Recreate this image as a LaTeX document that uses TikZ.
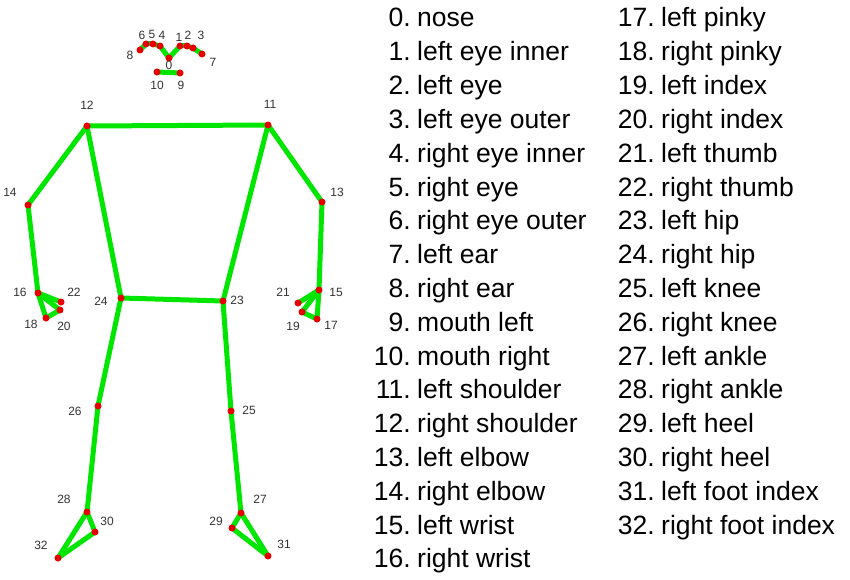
\documentclass[tikz,border=0pt]{standalone}
\usepackage{fontspec}
\setmainfont{Liberation Sans}
\definecolor{bone}{RGB}{0,230,0}
\definecolor{joint}{RGB}{230,0,0}
\begin{document}
\begin{tikzpicture}[x=1pt,y=-1pt,
  bonel/.style={draw=bone,line width=5pt,line cap=round},
  pt/.style={circle,fill=joint,inner sep=0pt,minimum size=7pt},
  lbl/.style={font=\fontsize{12}{13}\selectfont,text=black!80,inner sep=0pt},
  num/.style={anchor=base east,font=\fontsize{26.5}{28}\selectfont,inner sep=0pt},
  txt/.style={anchor=base west,font=\fontsize{26.5}{28}\selectfont,inner sep=0pt}]
\useasboundingbox (0,0) rectangle (850,580);
\fill[white] (0,0) rectangle (850,580);
% joints
\foreach \n/\x/\y in {0/169/58,1/180/46,2/187/46,3/193/48,4/160/46,5/153/44,6/146/44,7/202/54,8/140/50,9/180/73,10/157/72,
 11/268/125,12/87/126,13/322/202,14/28/205,15/319/290,16/38/293,17/317/319,18/46/318,19/302/312,20/60/310,21/298/303,22/61/302,
 23/223/301,24/121/298,25/231/411,26/98/406,27/241/513,28/87/512,29/232/528,30/95/532,31/268/556,32/58/558}
  \coordinate (p\n) at (\x,\y);
\foreach \a/\b in {8/6,6/5,5/4,4/0,0/1,1/2,2/3,3/7,9/10,
 11/12,11/13,13/15,15/17,15/19,15/21,17/19,12/14,14/16,16/18,16/20,16/22,18/20,
 11/23,12/24,23/24,23/25,24/26,25/27,26/28,27/29,27/31,29/31,28/30,28/32,30/32}
  \draw[bonel] (p\a) -- (p\b);
\foreach \n in {0,...,32} \node[pt] (j\n) at (p\n) {};
% labels
\foreach \n/\x/\y in {0/169/65,1/179/37,2/188/35,3/201/35,4/162/35,5/152/34,6/142/35,7/213/62,8/130/55,9/181/85,10/157/85,
 11/270/104,12/87/105,13/337/192,14/10/192,15/336/292,16/20/292,17/331/325,18/31/324,19/293/326,20/64/326,21/283/292,22/74/292,
 23/237/300,24/101/301,25/249/410,26/75/411,27/260/499,28/64/499,29/216/521,30/107/521,31/284/544,32/41/545}
  \node[lbl] (l\n) at (\x,\y) {\n};
% list
\foreach \i/\t in {0/nose,1/left eye inner,2/left eye,3/left eye outer,4/right eye inner,5/right eye,6/right eye outer,7/left ear,8/right ear,9/mouth left,10/mouth right,11/left shoulder,12/right shoulder,13/left elbow,14/right elbow,15/left wrist,16/right wrist}{
  \node[num] (n\i) at (411,{27+33.8*\i}) {\i.};
  \node[txt] (t\i) at (417,{27+33.8*\i}) {\t};}
\foreach \i/\t in {17/left pinky,18/right pinky,19/left index,20/right index,21/left thumb,22/right thumb,23/left hip,24/right hip,25/left knee,26/right knee,27/left ankle,28/right ankle,29/left heel,30/right heel,31/left foot index,32/right foot index}{
  \node[num] (n\i) at (655,{27+33.8*(\i-17)}) {\i.};
  \node[txt] (t\i) at (661,{27+33.8*(\i-17)}) {\t};}
\end{tikzpicture}
\end{document}
